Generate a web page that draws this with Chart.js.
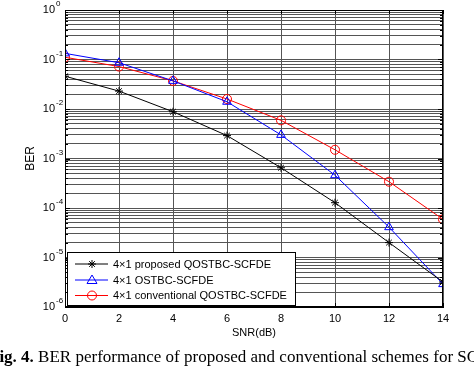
<!DOCTYPE html>
<html>
<head>
<meta charset="utf-8">
<script src="https://cdn.jsdelivr.net/npm/chart.js@4.4.0/dist/chart.umd.min.js"></script>
<style>
  body { margin: 0; background: #fff; overflow: hidden; }
  #wrap { position: relative; width: 474px; height: 366px; overflow: hidden; }
  #cap { position: absolute; left: -11px; top: 347px; font: 17px "Liberation Serif", serif; white-space: nowrap; color: #000; line-height: 19px; }
</style>
</head>
<body>
<div id="wrap">
  <canvas id="berChart" width="474" height="366"></canvas>
  <div id="cap"><b>Fig. 4.</b> BER performance of proposed and conventional schemes for SC</div>
</div>
<script>
// SNR points (dB)
var snr = [0, 2, 4, 6, 8, 10, 12, 14];
// BER
var berProposed = [0.046, 0.023, 0.0088, 0.0029, 6.5e-4, 1.28e-4, 2.0e-5, 3.2e-6];
var berOstbc    = [0.133, 0.086, 0.037, 0.014, 0.0030, 4.6e-4, 4.1e-5, 2.9e-6];
var berConv     = [0.111, 0.072, 0.037, 0.0159, 0.0059, 0.0015, 3.4e-4, 5.9e-5];
var seriesNames = ['4\u00d71 proposed QOSTBC-SCFDE', '4\u00d71 OSTBC-SCFDE', '4\u00d71 conventional QOSTBC-SCFDE'];
var seriesColors = ['#000000', '#0000ff', '#ff0000'];
var seriesMarkers = ['star', 'triangle', 'circle'];
var yDecades = [-6, -5, -4, -3, -2, -1, 0];

function pts(ys) {
  return snr.map(function(x, i) { return {x: x, y: ys[i]}; });
}

function marker(ctx, style, x, y, color) {
  ctx.save();
  ctx.strokeStyle = color;
  ctx.lineWidth = 1;
  ctx.beginPath();
  if (style === 'star') {
    for (var k = 0; k < 4; k++) {
      var a = k * Math.PI / 4;
      ctx.moveTo(x - 4 * Math.cos(a), y - 4 * Math.sin(a));
      ctx.lineTo(x + 4 * Math.cos(a), y + 4 * Math.sin(a));
    }
  } else if (style === 'triangle') {
    ctx.moveTo(x, y - 5);
    ctx.lineTo(x + 5, y + 3.5);
    ctx.lineTo(x - 5, y + 3.5);
    ctx.closePath();
  } else {
    ctx.arc(x, y, 4.5, 0, Math.PI * 2);
  }
  ctx.stroke();
  ctx.restore();
}

// y labels with exponents, frame, inward ticks, legend box
var decor = {
  id: 'decor',
  afterDraw: function(chart) {
    var ctx = chart.ctx, a = chart.chartArea;
    var ys = chart.scales.y, xs = chart.scales.x;
    ctx.save();
    ctx.fillStyle = '#000';
    yDecades.forEach(function(e) {
      var py = ys.getPixelForValue(Math.pow(10, e));
      ctx.font = '11px "Liberation Sans", Arial';
      ctx.textAlign = 'right';
      ctx.textBaseline = 'middle';
      ctx.fillText('10', 55, py);
      ctx.font = '8px "Liberation Sans", Arial';
      ctx.textAlign = 'left';
      ctx.fillText(e === 0 ? '0' : '-' + (-e), 56, py - 6);
    });

    // frame and inward ticks
    ctx.strokeStyle = '#000';
    ctx.lineWidth = 1;
    ctx.strokeRect(a.left + 0.5, a.top + 0.5, a.right - a.left - 1, a.bottom - a.top - 1);
    ctx.beginPath();
    ys.ticks.forEach(function(t) {
      var py = Math.round(ys.getPixelForValue(t.value)) + 0.5;
      var len = Math.abs(Math.log10(t.value) % 1) < 1e-9 ? 5 : 3;
      ctx.moveTo(a.left, py); ctx.lineTo(a.left + len, py);
      ctx.moveTo(a.right, py); ctx.lineTo(a.right - len, py);
    });
    xs.ticks.forEach(function(t) {
      var px = Math.round(xs.getPixelForValue(t.value)) + 0.5;
      ctx.moveTo(px, a.top); ctx.lineTo(px, a.top + 4);
      ctx.moveTo(px, a.bottom); ctx.lineTo(px, a.bottom - 4);
    });
    ctx.stroke();

    // legend
    var lx = 67, ly = 252, lw = 228, lh = 53;
    ctx.fillStyle = '#fff';
    ctx.fillRect(lx, ly, lw, lh);
    ctx.strokeRect(lx + 0.5, ly + 0.5, lw, lh);
    ctx.font = '11px "Liberation Sans", Arial';
    ctx.textAlign = 'left';
    ctx.textBaseline = 'middle';
    var rows = [263.5, 279.5, 295];
    seriesNames.forEach(function(name, i) {
      var ry = rows[i];
      ctx.strokeStyle = seriesColors[i];
      ctx.beginPath();
      ctx.moveTo(75, ry + 0.5); ctx.lineTo(108, ry + 0.5);
      ctx.stroke();
      marker(ctx, seriesMarkers[i], 92, ry + 0.5, seriesColors[i]);
      ctx.fillStyle = '#000';
      ctx.fillText(name, 113, ry + 1);
    });
    ctx.restore();
  }
};

var ctx = document.getElementById('berChart');
var chart = new Chart(ctx, {
  type: 'line',
  data: {
    datasets: [
      { label: seriesNames[0], data: pts(berProposed), borderColor: seriesColors[0], borderWidth: 1,
        pointStyle: 'star', pointRadius: 4, pointBorderColor: seriesColors[0], pointBackgroundColor: 'rgba(0,0,0,0)' },
      { label: seriesNames[1], data: pts(berOstbc), borderColor: seriesColors[1], borderWidth: 1,
        pointStyle: 'triangle', pointRadius: 5, pointBorderColor: seriesColors[1], pointBackgroundColor: 'rgba(0,0,0,0)' },
      { label: seriesNames[2], data: pts(berConv), borderColor: seriesColors[2], borderWidth: 1,
        pointStyle: 'circle', pointRadius: 4.5, pointBorderColor: seriesColors[2], pointBackgroundColor: 'rgba(0,0,0,0)' }
    ]
  },
  options: {
    responsive: false,
    animation: false,
    layout: { padding: { left: 0, right: 31, top: 10, bottom: 0 } },
    plugins: { legend: { display: false }, tooltip: { enabled: false } },
    scales: {
      x: {
        type: 'linear', min: 0, max: 14,
        ticks: { stepSize: 2, color: '#000', font: { family: '"Liberation Sans", Arial', size: 11 }, padding: 5, maxRotation: 0 },
        grid: { color: '#555', drawTicks: false },
        border: { color: '#000' },
        title: { display: true, text: 'SNR(dB)', color: '#000', font: { family: '"Liberation Sans", Arial', size: 11 }, padding: { top: 0, bottom: 26 } },
        afterFit: function(s) { s.height = 59; }
      },
      y: {
        type: 'logarithmic', min: 1e-6, max: 1,
        afterBuildTicks: function(s) {
          var t = [];
          yDecades.forEach(function(e) {
            for (var m = 1; m <= 9; m++) {
              var v = m * Math.pow(10, e);
              if (v <= 1) t.push({ value: v });
            }
          });
          s.ticks = t;
        },
        ticks: { display: false },
        grid: { color: '#555', drawTicks: false },
        border: { color: '#000' },
        title: { display: true, text: 'BER', color: '#000', font: { family: '"Liberation Sans", Arial', size: 12 }, padding: { top: 23, bottom: 0 } },
        afterFit: function(s) { s.width = 65; }
      }
    }
  },
  plugins: [decor]
});
</script>
</body>
</html>
